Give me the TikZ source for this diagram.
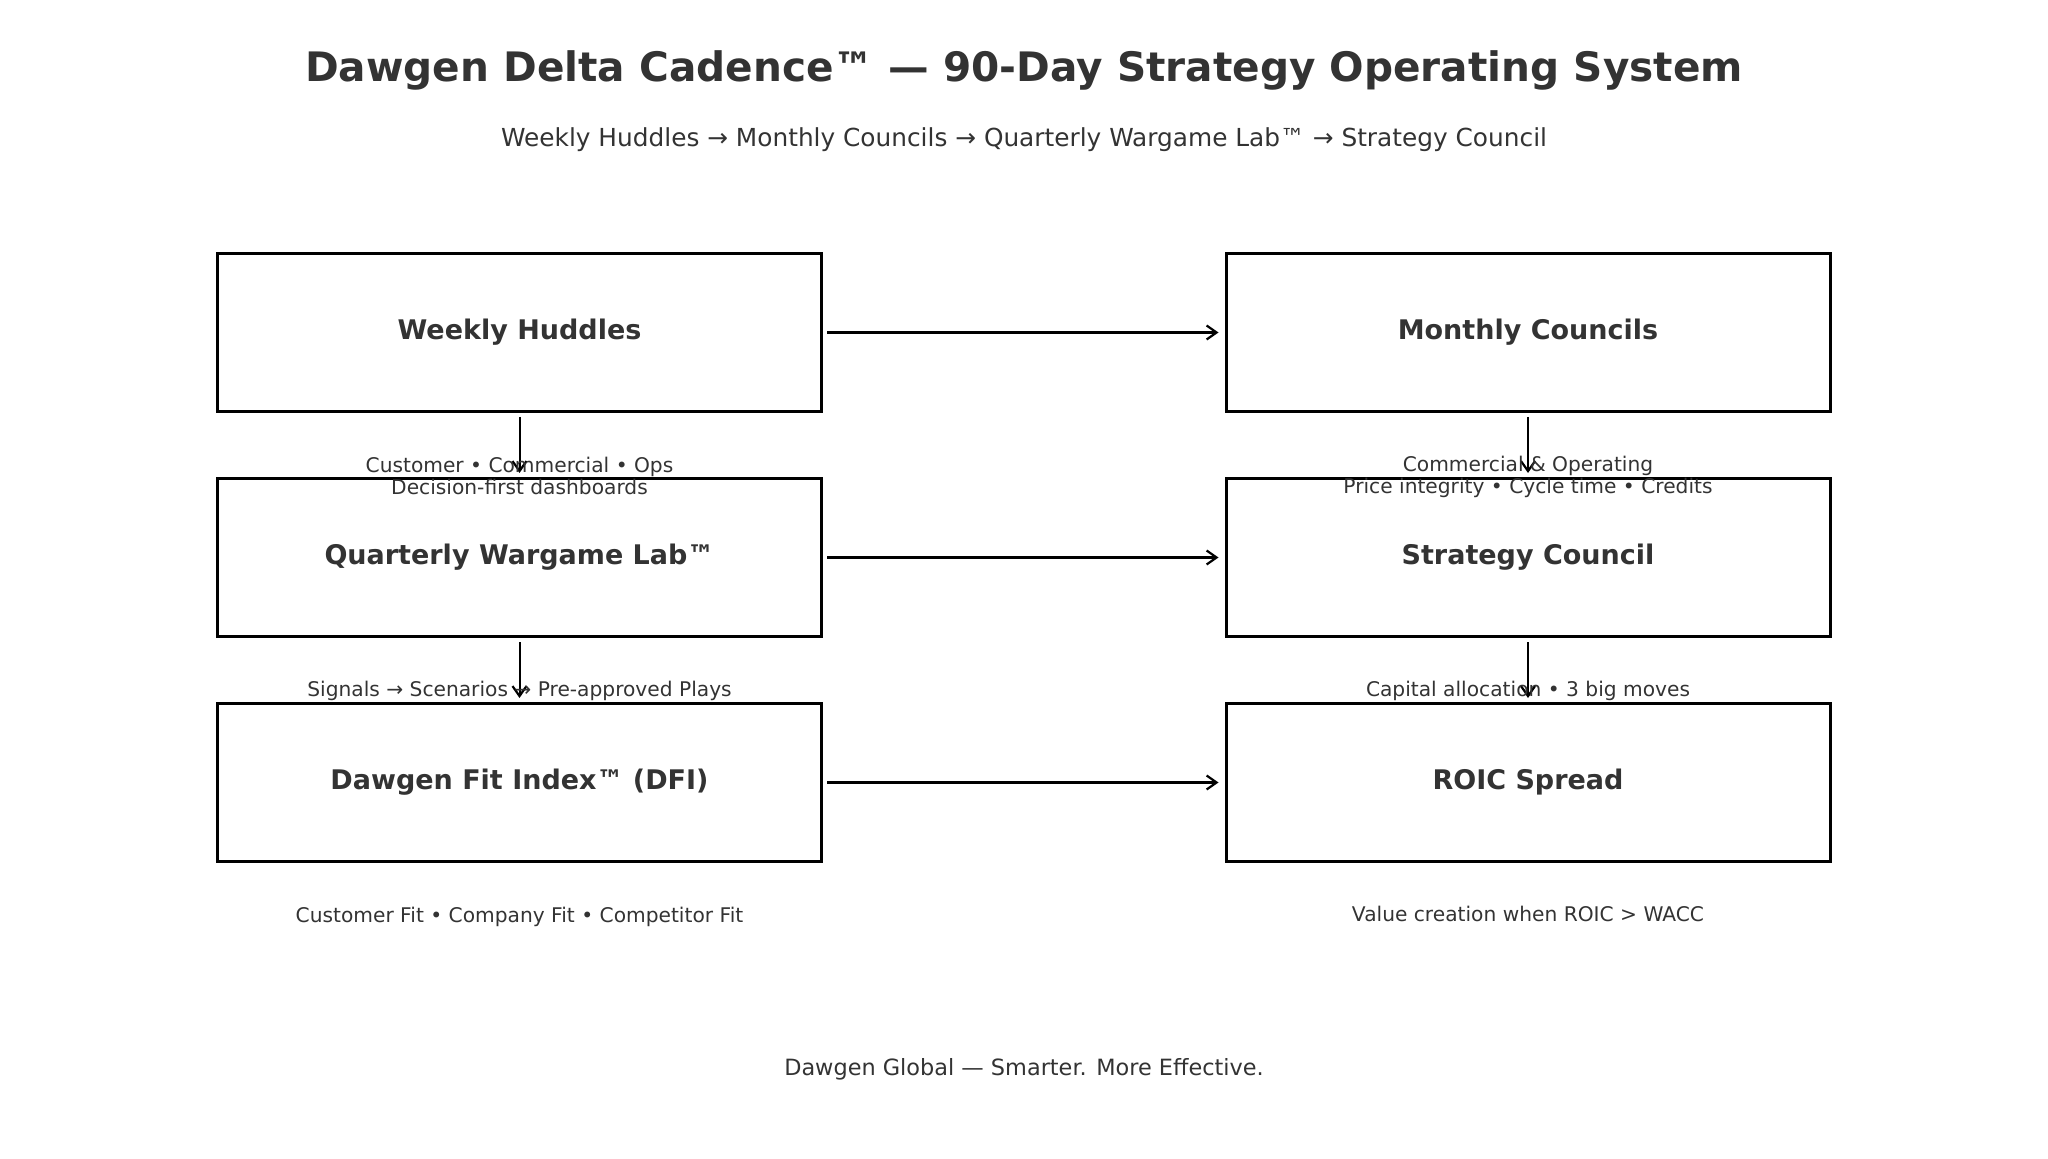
\documentclass[tikz,border=0pt]{standalone}
\usepackage{fontspec}
\setmainfont{DejaVu Sans}
\usetikzlibrary{arrows.meta}
\definecolor{txt}{HTML}{333333}
\tikzset{
  box/.style={draw=black, line width=1.5pt, minimum width=302pt, minimum height=79pt, inner sep=0pt,
    font=\fontsize{13.5}{15}\selectfont\bfseries, text=txt},
  note/.style={font=\fontsize{10.1}{11}\selectfont, text=txt, align=center, inner sep=0pt},
  flow/.style={draw=black, line width=1.3pt, -{Straight Barb[length=5pt,width=7pt,line width=1.1pt]}},
}
\begin{document}
\begin{tikzpicture}[x={(0.5pt,0)}, y={(0,-0.5pt)}]
\useasboundingbox (0,0) rectangle (2048,1159);
\node[font=\fontsize{20.3}{23}\selectfont\bfseries, text=txt] (title) at (1024,70.5) {Dawgen Delta Cadence™ — 90-Day Strategy Operating System};
\node[font=\fontsize{12.4}{14}\selectfont, text=txt] (sub) at (1024,140) {Weekly Huddles → Monthly Councils → Quarterly Wargame Lab™ → Strategy Council};

\node[box] (wh) at (519.5,332.5) {Weekly Huddles};
\node[box] (mc) at (1528,332.5) {Monthly Councils};
\node[box] (qw) at (519.5,557.5) {Quarterly Wargame Lab™};
\node[box] (sc) at (1528,557.5) {Strategy Council};
\node[box] (dfi) at (519.5,782.5) {Dawgen Fit Index™ (DFI)};
\node[box] (roic) at (1528,782.5) {ROIC Spread};

\draw[flow, shorten <=2pt, shorten >=3pt] (wh) -- (mc);
\draw[flow, line width=1.1pt, shorten <=2pt, shorten >=3pt] (qw) -- (sc);
\draw[flow, shorten <=2pt, shorten >=3pt] (dfi) -- (roic);
\draw[flow, line width=1pt, shorten <=2pt, shorten >=2pt] (wh) -- (qw);
\draw[flow, line width=1pt, shorten <=2pt, shorten >=2pt] (mc) -- (sc);
\draw[flow, line width=1pt, shorten <=2pt, shorten >=2pt] (qw) -- (dfi);
\draw[flow, line width=1pt, shorten <=2pt, shorten >=2pt] (sc) -- (roic);

\node[note] (n1) at (519.5,475.5) {Customer • Commercial • Ops\\Decision-first dashboards};
\node[note] (n2) at (1528,477) {Commercial \& Operating\\Price integrity • Cycle time • Credits};
\node[note] (n3) at (519.5,690.5) {Signals → Scenarios → Pre-approved Plays};
\node[note] (n4) at (1528,690.5) {Capital allocation • 3 big moves};
\node[note] (n5) at (519.5,916.5) {Customer Fit • Company Fit • Competitor Fit};
\node[note] (n6) at (1528,914) {Value creation when ROIC > WACC};

\node[font=\fontsize{11.2}{13}\selectfont, text=txt] (foot) at (1024,1069.5) {Dawgen Global — Smarter. More Effective.};
\end{tikzpicture}
\end{document}
